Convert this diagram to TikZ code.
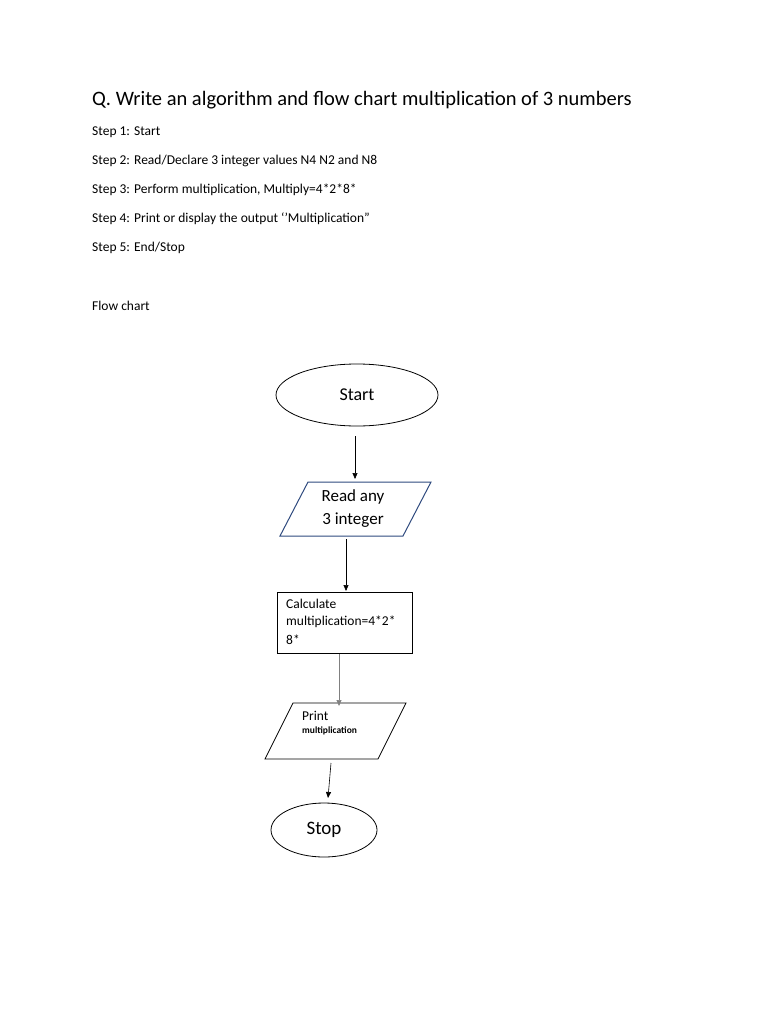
\documentclass[tikz,border=0pt]{standalone}
\usepackage{fontspec}
\setmainfont{Carlito}
\usetikzlibrary{shapes.geometric,arrows.meta}
\definecolor{pblue}{HTML}{2F4A7F}
\begin{document}
\begin{tikzpicture}[x=1pt,y=-1pt,
  txt/.style={anchor=west,inner sep=0pt},
  arr/.style={-{Triangle[length=6pt,width=5pt]},line width=0.6pt}]
\useasboundingbox (0,0) rectangle (768,1024);
\fill[white] (0,0) rectangle (768,1024);
\node[txt,font=\fontsize{20.5}{22}\selectfont] at (92,100) {Q. Write an algorithm and flow chart multiplication of 3 numbers};
\begin{scope}[every node/.style={txt,font=\fontsize{13.5}{15}\selectfont}]
\node at (92,132) {Step 1: Start};
\node at (92,161) {Step 2: Read/Declare 3 integer values N4 N2 and N8};
\node at (92,190) {Step 3: Perform multiplication, Multiply=4*2*8*};
\node at (92,219) {Step 4: Print or display the output ‘’Multiplication”};
\node at (92,248) {Step 5: End/Stop};
\node at (92,306) {Flow chart};
\end{scope}
% Start
\node[ellipse,draw,line width=0.8pt,minimum width=162pt,minimum height=62pt,font=\fontsize{18}{20}\selectfont] (start) at (357,395) {Start};
% Read
\draw[pblue,line width=1pt] (308,482) -- (431,482) -- (403,536) -- (280,536) -- cycle;
\node[inner sep=0pt,align=center,font=\fontsize{17}{23}\selectfont] (read) at (353,509) {Read any\\3 integer};
% Calc
\node[draw,line width=0.8pt,minimum width=135pt,minimum height=61pt] (calc) at (344.5,622.5) {};
\begin{scope}[every node/.style={txt,font=\fontsize{13.5}{15}\selectfont}]
\node at (286,604) {Calculate};
\node at (286,622) {multiplication=4*2*};
\node at (286,640) {8*};
\end{scope}
% Print
\draw[line width=0.8pt] (293,703) -- (406,703) -- (378,759) -- (265,759) -- cycle;
\node[txt,font=\fontsize{13.5}{15}\selectfont] (print) at (302,716) {Print};
\node[txt,font=\bfseries\fontsize{9.5}{11}\selectfont] at (302,731) {multiplication};
% Stop
\node[ellipse,draw,line width=0.8pt,minimum width=106pt,minimum height=54pt,font=\fontsize{19}{21}\selectfont] (stop) at (324,830) {Stop};
% arrows
\coordinate (a1) at (355,436); \coordinate (a2) at (355,479);
\coordinate (b1) at (346,539); \coordinate (b2) at (346,591);
\coordinate (c1) at (339,654); \coordinate (c2) at (339,706);
\coordinate (d1) at (331,763); \coordinate (d2) at (328,798);
\draw[arr] (a1) -- (a2);
\draw[arr] (b1) -- (b2);
\draw[arr,draw=gray] (c1) -- (c2);
\draw[arr] (d1) -- (d2);
\end{tikzpicture}
\end{document}
